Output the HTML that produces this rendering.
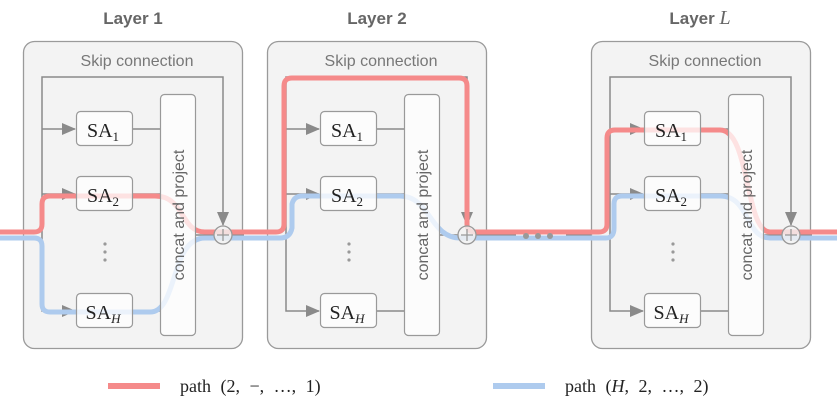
<!DOCTYPE html>
<html><head><meta charset="utf-8"><style>
html,body{margin:0;padding:0;background:#fff;}
svg{display:block;}
.t{font-family:"Liberation Sans",sans-serif;}
.s{font-family:"Liberation Serif",serif;}
</style></head><body>
<svg width="837" height="402" viewBox="0 0 837 402" xmlns="http://www.w3.org/2000/svg">
<defs>
<marker id="a" markerWidth="14" markerHeight="12" refX="13" refY="6" orient="auto" markerUnits="userSpaceOnUse">
<path d="M0,0 L14,6 L0,12 z" fill="#8a8a8a"/></marker>
<g id="layer">
<rect x="23.5" y="41.5" width="219" height="307" rx="11" fill="#f3f3f3" stroke="#9a9a9a" stroke-width="1.3"/>
<text x="137" y="66" class="t" font-size="16" fill="#777" text-anchor="middle">Skip connection</text>
</g>
<g id="inner" fill="none" stroke="#8a8a8a" stroke-width="1.5">
<path d="M42 235 V77 H223 V225" marker-end="url(#a)"/>
<path d="M42 129 H75" marker-end="url(#a)"/>
<path d="M42 194 H75" marker-end="url(#a)"/>
<path d="M42 235 V311 H75" marker-end="url(#a)"/>
<path d="M132 129 H160 M132 194 H160 M132 311 H160"/>
<path d="M195 235 H214 M232 235 H244"/>
</g>
<g id="boxes">
<rect x="76.5" y="111.5" width="56" height="34" rx="4" fill="#fff" fill-opacity="0.75" stroke="#999" stroke-width="1.2"/>
<rect x="76.5" y="176.5" width="56" height="34" rx="4" fill="#fff" fill-opacity="0.75" stroke="#999" stroke-width="1.2"/>
<rect x="76.5" y="293.5" width="56" height="34" rx="4" fill="#fff" fill-opacity="0.75" stroke="#999" stroke-width="1.2"/>
<rect x="160.5" y="94.5" width="35" height="241" rx="4" fill="#fff" fill-opacity="0.75" stroke="#999" stroke-width="1.2"/>
<text transform="translate(184,215) rotate(-90)" class="t" font-size="16" fill="#666" text-anchor="middle">concat and project</text>
<text x="103" y="137" class="s" font-size="20" fill="#222" text-anchor="middle">SA<tspan font-size="13" dy="4">1</tspan></text>
<text x="103" y="202" class="s" font-size="20" fill="#222" text-anchor="middle">SA<tspan font-size="13" dy="4">2</tspan></text>
<text x="103" y="319" class="s" font-size="20" fill="#222" text-anchor="middle">SA<tspan font-size="13" font-style="italic" dy="4">H</tspan></text>
<circle cx="105" cy="244" r="1.6" fill="#999"/><circle cx="105" cy="252" r="1.6" fill="#999"/><circle cx="105" cy="260" r="1.6" fill="#999"/>
<circle cx="223" cy="235" r="9" fill="#f3f3f3" fill-opacity="0.8" stroke="#999" stroke-width="1.3"/>
<path d="M217 235 H229 M223 229 V241" stroke="#999" stroke-width="1.3"/>
</g>
</defs>

<text x="133" y="24" class="t" font-size="17" font-weight="bold" fill="#666" text-anchor="middle">Layer 1</text>
<text x="377" y="24" class="t" font-size="17" font-weight="bold" fill="#666" text-anchor="middle">Layer 2</text>
<text x="700" y="24" class="t" font-size="17" font-weight="bold" fill="#666" text-anchor="middle">Layer <tspan class="s" font-style="italic" font-weight="normal" font-size="20">L</tspan></text>

<use href="#layer"/>
<use href="#layer" transform="translate(244,0)"/>
<use href="#layer" transform="translate(568,0)"/>
<use href="#inner"/>
<use href="#inner" transform="translate(244,0)"/>
<use href="#inner" transform="translate(568,0)"/>
<path d="M488 235 H516 M566 235 H591" stroke="#8a8a8a" stroke-width="1.5"/>

<g fill="none" stroke-width="5" stroke-linecap="round">
<path stroke="#aecbee" d="M0 238 H34 Q42 238 42 246 V304 Q42 312 50 312 H150 C178 312 170 238 205 238 H280 Q290 238 292 228 V204 Q294 196 302 196 H400 C430 196 430 238 460 238 H606 Q614 238 614 228 V204 Q614 196 622 196 H720 C750 196 745 238 770 238 H837"/>
<path stroke="#f58a8a" d="M0 232 H34 Q42 232 42 224 V204 Q42 196 50 196 H155 C185 196 180 232 205 232 H276 Q284 232 284 224 V86 Q284 78 292 78 H459 Q467 78 467 86 V224 Q467 232 475 232 H599 Q607 232 607 224 V138 Q607 130 615 130 H720 C750 130 745 232 770 232 H837"/>
</g>

<use href="#boxes"/>
<use href="#boxes" transform="translate(244,0)"/>
<use href="#boxes" transform="translate(568,0)"/>

<circle cx="526" cy="236" r="3" fill="#999"/><circle cx="538" cy="236" r="3" fill="#999"/><circle cx="550" cy="236" r="3" fill="#999"/>

<line x1="108" y1="386" x2="160" y2="386" stroke="#f58a8a" stroke-width="6"/>
<text x="180" y="392" class="s" font-size="18" fill="#222" word-spacing="5">path (2, −, …, 1)</text>
<line x1="493" y1="386" x2="545" y2="386" stroke="#aecbee" stroke-width="6"/>
<text x="565" y="392" class="s" font-size="18" fill="#222" word-spacing="5">path (<tspan font-style="italic">H</tspan>, 2, …, 2)</text>
</svg>
</body></html>
